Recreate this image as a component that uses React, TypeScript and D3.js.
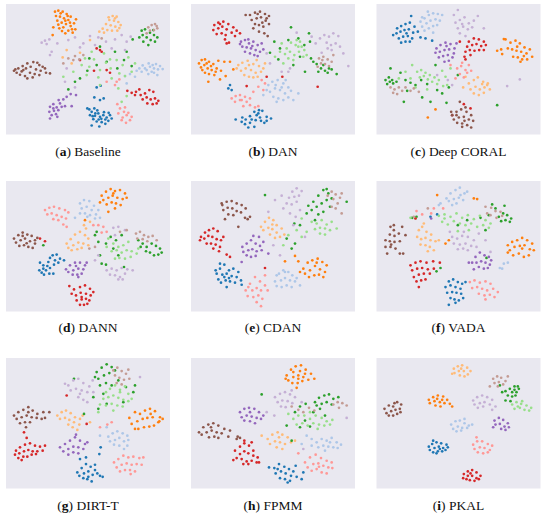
import React from 'react';
import * as d3 from 'd3';

// class order: blue, light blue, orange, light orange, green, light green,
// red, pink, purple, light purple, brown, light brown
const classColors = ['#1f77b4', '#aec7e8', '#ff7f0e', '#ffbb78', '#2ca02c', '#98df8a', '#d62728', '#ff9896', '#9467bd', '#c5b0d5', '#8c564b', '#c49c94'];

const panelLetters = ['a', 'b', 'c', 'd', 'e', 'f', 'g', 'h', 'i'];
const panelNames = ['Baseline', 'DAN', 'Deep CORAL', 'DANN', 'CDAN', 'VADA', 'DIRT-T', 'FPMM', 'PKAL'];

type Pt = number[];

const baseline: Pt[][] = [
  [[268,328],[275,335],[283,325],[270,345],[285,347],[295,340],[280,357],[290,364],[300,350],[310,345],[320,352],[330,345],[305,366],[316,371],[298,379],[275,376],[325,362],[335,355],[292,331],[300,300],[311,295],[290,262],[302,257],[286,340],[304,356],[316,358],[278,348],[326,338],[262,325],[296,358],[312,336],[283,292]],
  [[418,205],[428,196],[440,210],[450,200],[462,205],[474,208],[488,207],[480,198],[468,192],[455,215],[445,222],[435,205],[425,215],[462,218],[472,225],[458,195],[375,228],[390,222],[405,230],[380,250],[410,212],[446,190]],
  [[165,35],[175,32],[188,35],[200,42],[212,50],[168,48],[180,50],[192,55],[205,60],[222,70],[172,62],[185,68],[198,72],[212,78],[226,88],[190,82],[205,92],[218,98],[178,85],[160,82],[196,100],[158,105],[182,40],[196,62],[210,68],[175,74],[216,88],[203,48],[186,93],[228,58]],
  [[338,48],[350,50],[328,60],[342,62],[355,66],[318,72],[332,76],[346,80],[358,84],[308,86],[322,90],[336,92],[298,95],[345,55],[362,75],[200,150],[188,172],[215,190],[240,158],[352,92],[312,98],[326,52],[270,120]],
  [[425,92],[435,88],[450,98],[462,105],[472,112],[428,105],[440,112],[452,120],[465,125],[430,125],[445,135],[418,112],[460,90],[268,175],[290,195],[320,185],[352,205],[372,180],[398,118],[240,235],[205,268],[345,155],[380,155],[262,212],[300,140],[225,245],[395,198]],
  [[255,175],[268,200],[282,178],[300,210],[318,188],[332,205],[350,180],[368,195],[385,172],[395,215],[260,225],[295,232],[335,235],[375,228],[245,195],[275,155],[312,160],[358,220],[405,190],[300,255],[355,265],[380,288],[190,230],[220,215],[365,305],[330,178]],
  [[382,272],[395,278],[408,275],[422,285],[435,280],[448,270],[460,275],[428,298],[440,292],[452,298],[465,295],[475,302],[442,310],[458,312],[470,310],[418,268],[290,145],[305,155],[320,210],[330,218],[282,212],[300,150],[240,180],[405,285]],
  [[352,312],[360,325],[372,335],[355,340],[368,352],[380,345],[390,360],[378,368],[365,360],[385,338],[350,245],[358,238],[345,255],[320,245],[375,322],[395,350]],
  [[150,320],[160,312],[170,322],[148,335],[162,332],[175,330],[155,345],[168,342],[150,355],[180,310],[190,298],[200,290],[212,282],[195,318],[215,318],[172,350],[185,320],[228,285],[160,325],[176,300]],
  [[125,128],[135,122],[148,118],[140,132],[155,155],[150,165],[205,120],[225,112],[250,130],[270,108],[295,112],[318,125],[345,118],[365,105],[380,125],[392,110],[200,205],[240,142],[285,135],[335,145],[172,130],[225,262],[195,245],[375,150]],
  [[42,212],[55,205],[68,198],[82,190],[100,186],[118,195],[135,205],[150,220],[50,218],[65,214],[78,205],[92,200],[108,208],[122,212],[138,218],[60,224],[75,228],[90,218],[104,222],[118,225],[82,235],[98,232],[70,210],[112,188],[46,208],[128,200]],
  [[445,82],[455,75],[465,72],[472,85],[450,92],[462,90],[440,100],[225,168],[238,178],[250,165],[190,190],[205,175],[470,78],[220,180],[305,115]],
];

const dan: Pt[][] = [
  [[170,365],[182,358],[195,348],[208,335],[220,340],[232,332],[245,350],[258,355],[180,372],[195,368],[212,360],[225,352],[238,368],[208,380],[190,382],[152,358],[215,345],[200,358],[228,362],[172,352],[130,265],[140,270],[135,255],[245,362],[222,330]],
  [[250,255],[262,245],[278,240],[295,250],[310,262],[255,275],[270,265],[285,270],[300,280],[318,272],[265,290],[280,295],[295,300],[310,292],[275,305],[245,270],[290,262],[325,300],[340,280],[235,285],[272,255],[302,240]],
  [[42,190],[50,180],[60,178],[72,185],[85,192],[100,182],[118,185],[48,202],[58,195],[68,205],[80,210],[95,205],[108,212],[122,228],[60,218],[72,222],[88,225],[105,238],[70,245],[145,208],[135,185],[65,190],[52,210],[78,198],[92,215]],
  [[160,195],[172,188],[188,182],[205,192],[222,198],[235,205],[168,212],[182,205],[198,210],[212,218],[228,215],[178,225],[192,230],[205,232],[155,205],[192,195],[215,180],[240,190],[218,230]],
  [[268,125],[318,82],[340,115],[372,100],[375,125],[285,145],[310,120],[358,135],[255,158],[378,175],[395,192],[408,205],[420,212],[432,205],[385,185],[400,215],[415,195],[428,218],[440,208],[455,222],[280,178],[345,170],[360,215],[325,195]],
  [[290,130],[305,145],[318,128],[332,135],[345,125],[358,150],[300,162],[315,155],[328,165],[342,155],[355,170],[310,175],[325,180],[340,140],[285,155],[365,165],[270,170],[335,120],[350,140],[295,190]],
  [[88,75],[100,68],[115,65],[130,72],[145,82],[155,92],[165,100],[85,90],[100,85],[112,80],[125,88],[140,98],[150,108],[95,102],[110,100],[122,105],[120,118],[132,128],[125,130],[292,230],[245,230],[185,258],[398,260],[105,72]],
  [[140,295],[152,288],[165,285],[180,290],[150,305],[170,300],[185,305],[195,315],[210,322],[220,318],[205,275],[220,260],[230,240],[240,250],[175,318],[195,295],[235,270],[165,300]],
  [[168,125],[180,120],[192,130],[205,125],[218,135],[230,130],[172,140],[185,142],[198,145],[212,150],[225,155],[180,155],[195,160],[208,165],[218,168],[165,132],[190,118],[235,148],[202,138]],
  [[405,115],[418,105],[432,110],[445,100],[460,108],[425,128],[438,135],[452,130],[465,140],[440,150],[428,145],[392,130],[255,190],[315,205],[290,215],[245,160],[475,160],[490,198],[380,110],[335,98],[310,215],[410,158]],
  [[195,45],[210,38],[225,35],[240,42],[252,48],[200,60],[215,55],[228,52],[242,62],[252,72],[210,72],[222,75],[235,80],[222,95],[238,100],[248,108],[182,45],[205,85],[232,68],[245,55],[218,42]],
  [[402,175],[415,170],[428,178],[440,185],[408,190],[420,192],[432,198],[398,200],[445,165],[412,180]],
];

const coral: Pt[][] = [
  [[80,85],[92,78],[105,72],[118,68],[132,80],[78,100],[90,95],[102,90],[115,88],[128,98],[142,95],[85,115],[98,110],[112,108],[125,115],[92,128],[105,125],[118,125],[68,105],[150,112],[165,115],[185,122],[108,100],[122,48]],
  [[150,65],[162,55],[175,45],[188,40],[202,42],[215,45],[155,80],[168,70],[180,62],[195,58],[208,62],[162,92],[175,85],[188,78],[172,35],[188,98],[200,75],[155,52]],
  [[392,148],[405,118],[420,128],[435,122],[448,130],[462,142],[478,148],[412,145],[425,148],[438,152],[452,155],[468,160],[428,170],[442,172],[455,178],[470,178],[485,170],[400,117],[380,152],[395,162],[450,185],[195,328],[172,352],[440,140],[460,168]],
  [[295,250],[310,240],[322,232],[338,245],[352,250],[300,268],[315,260],[328,268],[342,262],[358,268],[310,280],[325,285],[340,278],[350,255],[285,230],[278,262],[335,252]],
  [[45,240],[55,232],[65,240],[78,245],[50,252],[68,250],[60,205],[90,218],[105,240],[120,248],[135,255],[152,240],[170,252],[200,270],[215,280],[180,305],[155,292],[195,195],[262,225],[235,262],[380,315],[110,272],[100,305],[58,245],[228,308]],
  [[140,215],[152,210],[165,218],[178,225],[192,232],[205,240],[148,232],[160,228],[172,238],[185,245],[200,252],[218,258],[125,195],[105,215],[120,235],[225,230],[240,205],[135,262],[170,268],[85,235],[230,255],[215,212]],
  [[295,125],[310,115],[325,118],[340,125],[290,140],[305,135],[318,132],[332,138],[346,135],[285,155],[298,150],[312,152],[326,150],[340,150],[282,170],[300,165],[285,178],[245,345],[268,125],[280,312],[300,325]],
  [[260,205],[272,198],[285,210],[295,195],[268,222],[280,232],[255,235],[290,218],[302,212],[240,195],[275,188]],
  [[198,145],[210,135],[225,128],[240,132],[252,145],[195,158],[208,155],[222,150],[236,148],[250,160],[205,172],[218,168],[232,165],[246,172],[222,185],[235,182],[258,130],[228,138]],
  [[255,68],[268,60],[282,52],[295,70],[310,62],[322,48],[262,85],[278,80],[292,88],[305,82],[268,100],[285,108],[275,72],[250,45],[262,30],[340,85],[232,240],[245,255],[448,238],[410,258],[200,225]],
  [[245,345],[258,335],[272,328],[288,335],[302,345],[250,358],[265,352],[280,350],[295,358],[308,362],[260,368],[275,370],[290,375],[302,382],[275,380],[268,305],[285,322],[242,335],[282,362],[258,345]],
  [[60,262],[72,268],[85,262],[95,272],[68,278],[80,282],[105,262],[120,272],[130,265],[145,275]],
];

const dann: Pt[][] = [
  [[118,285],[130,270],[145,260],[158,240],[170,238],[180,250],[192,255],[125,292],[138,285],[150,278],[162,268],[175,262],[132,298],[148,295],[160,295],[150,248],[120,262],[142,272],[165,255],[130,280]],
  [[240,85],[252,75],[268,78],[282,92],[295,105],[245,100],[260,95],[275,105],[288,118],[255,115],[270,120],[240,115],[300,128],[262,125],[225,128],[285,130]],
  [[305,62],[318,50],[332,42],[345,48],[360,45],[375,55],[310,75],[325,68],[338,62],[352,68],[368,72],[380,68],[320,88],[335,82],[348,85],[362,90],[345,100],[325,110],[300,82],[255,135],[340,55]],
  [[200,205],[212,192],[225,178],[240,170],[255,180],[265,190],[205,218],[220,210],[235,202],[250,205],[265,210],[215,225],[232,222],[245,218],[258,160],[270,140],[252,150]],
  [[415,195],[428,205],[440,215],[455,205],[468,212],[480,220],[422,215],[438,228],[450,232],[462,240],[475,238],[485,232],[332,185],[348,195],[365,180],[340,220],[355,240],[318,205],[295,200],[305,265],[318,268],[372,275],[130,210],[285,180],[300,240],[290,170]],
  [[325,190],[340,205],[355,215],[370,210],[385,200],[335,228],[350,225],[365,232],[380,225],[395,228],[410,235],[358,248],[375,250],[392,245],[345,250],[415,220],[320,215]],
  [[222,342],[240,335],[255,330],[270,340],[280,350],[215,355],[228,360],[242,352],[258,355],[272,360],[230,375],[245,372],[258,370],[268,375],[240,388],[252,388],[262,385],[208,332],[135,198],[120,190],[245,365]],
  [[135,105],[148,98],[162,95],[178,100],[195,105],[205,112],[142,118],[155,115],[170,120],[185,125],[198,130],[160,132],[175,135],[190,148],[200,155],[295,150],[310,155],[280,150],[320,170],[305,172]],
  [[198,282],[210,270],[225,262],[240,262],[255,270],[205,290],[220,285],[235,280],[250,282],[218,298],[232,298],[245,295],[235,305],[260,262],[228,272]],
  [[320,285],[335,280],[350,285],[365,278],[382,282],[398,285],[330,298],[345,300],[360,305],[375,295],[355,312],[368,312],[340,158],[355,155],[375,165],[295,240],[285,255],[345,180]],
  [[42,190],[55,180],[68,172],[82,178],[95,182],[112,188],[48,202],[62,195],[75,190],[90,198],[105,205],[58,212],[72,210],[85,215],[98,218],[105,195],[68,182],[80,204]],
  [[408,175],[420,170],[432,180],[445,185],[458,182],[470,195],[412,190],[428,192],[442,198],[380,165],[360,170],[268,220],[285,215]],
];

const cdan: Pt[][] = [
  [[95,295],[105,280],[118,268],[132,285],[145,280],[160,290],[100,312],[112,298],[125,295],[140,302],[155,305],[168,315],[108,322],[122,315],[135,318],[150,322],[92,285],[125,335],[170,328],[118,305],[132,308],[105,265]],
  [[270,318],[282,295],[295,285],[310,290],[322,300],[275,332],[288,315],[300,308],[315,315],[330,318],[290,335],[305,330],[320,335],[335,308],[345,330],[300,290],[275,300]],
  [[355,280],[368,262],[382,255],[398,250],[412,260],[425,270],[360,295],[375,285],[390,272],[405,282],[420,290],[372,305],[388,300],[402,298],[415,305],[395,262],[330,242],[340,258],[300,258],[345,290]],
  [[228,155],[240,140],[252,128],[265,135],[275,150],[235,165],[250,158],[262,162],[275,172],[290,160],[255,178],[270,188],[285,185],[298,178],[262,148]],
  [[385,80],[400,62],[415,45],[430,55],[380,105],[395,95],[410,85],[425,75],[440,70],[365,115],[400,118],[415,110],[435,95],[345,150],[328,145],[305,190],[320,220],[240,60],[485,80],[390,135],[425,42],[370,92],[330,205]],
  [[380,140],[395,145],[410,135],[425,148],[440,140],[455,160],[390,162],[405,158],[420,160],[435,165],[405,175],[420,178],[335,165],[350,185],[310,180],[365,170],[350,130],[295,210]],
  [[48,185],[60,172],[72,165],[85,160],[98,168],[45,195],[58,190],[70,182],[82,185],[95,192],[108,195],[65,205],[78,205],[92,208],[105,215],[115,185],[85,220],[125,238],[102,228],[135,245],[240,278]],
  [[182,345],[195,325],[210,305],[225,318],[240,300],[188,362],[202,345],[215,338],[228,345],[240,330],[205,365],[220,360],[232,370],[215,380],[228,392],[248,345],[190,335]],
  [[172,215],[185,205],[198,195],[212,205],[225,212],[235,200],[175,230],[190,225],[202,222],[215,228],[230,225],[185,240],[198,245],[212,242],[205,182],[170,260],[250,235],[222,185]],
  [[322,50],[335,40],[350,48],[312,68],[328,65],[342,62],[305,85],[320,88],[335,80],[295,100],[315,115],[332,125],[345,105],[325,150],[360,185],[270,75],[250,110],[290,62],[265,210],[285,240]],
  [[112,90],[125,80],[140,78],[155,85],[170,90],[182,100],[115,105],[128,98],[142,100],[155,108],[168,112],[130,118],[145,120],[120,132],[195,125],[188,132],[180,128],[160,155],[110,85]],
  [[440,50],[452,58],[465,68],[445,72],[458,85],[470,55],[440,95],[452,100],[470,115],[428,62]],
];

const vada: Pt[][] = [
  [[235,318],[248,312],[262,320],[275,325],[285,320],[225,335],[240,330],[255,335],[270,340],[230,352],[245,350],[258,352],[272,355],[240,368],[252,372],[265,375],[278,368],[235,388],[255,382],[180,125],[200,118]],
  [[228,70],[240,55],[255,45],[268,38],[282,55],[235,78],[250,72],[265,68],[278,75],[245,90],[258,85],[205,90],[290,50],[270,60],[400,265],[412,262],[395,280],[388,278],[210,85]],
  [[412,210],[425,200],[440,195],[455,188],[470,195],[485,205],[418,225],[432,215],[448,212],[462,210],[478,222],[490,225],[428,240],[445,235],[460,245],[475,240],[455,220],[235,195],[225,205],[310,70],[320,72],[200,60],[412,232]],
  [[145,165],[155,155],[168,170],[182,178],[140,185],[152,192],[165,188],[180,195],[195,198],[150,208],[165,210],[178,215],[190,225],[172,228],[160,145],[205,195]],
  [[125,128],[138,125],[385,125],[398,115],[410,120],[422,130],[392,138],[405,135],[418,140],[375,100],[365,88],[402,92],[330,128],[355,120],[262,150],[290,135],[345,165],[210,278],[348,248],[198,288]],
  [[205,122],[222,118],[240,125],[258,115],[275,128],[292,120],[310,132],[328,122],[345,135],[360,145],[215,140],[232,148],[250,138],[268,145],[285,150],[302,145],[320,155],[338,150],[355,158],[262,168],[120,128],[135,130],[295,165],[222,130]],
  [[120,270],[135,262],[150,258],[168,262],[188,258],[125,285],[140,280],[155,278],[172,282],[190,280],[130,305],[145,298],[160,295],[178,295],[138,318],[152,315],[165,312],[145,335],[208,262],[135,130]],
  [[298,320],[312,315],[328,322],[345,318],[360,325],[305,338],[320,335],[335,340],[350,345],[368,340],[382,350],[325,355],[342,360],[358,358],[372,365],[138,108],[155,118],[190,100],[218,100],[345,372],[182,115]],
  [[305,262],[315,245],[328,232],[342,240],[355,245],[362,255],[318,262],[332,258],[345,262],[358,268],[310,282],[325,275],[340,280],[352,278],[295,262],[182,130]],
  [[245,185],[260,190],[275,182],[292,185],[310,195],[250,205],[268,208],[285,205],[302,212],[318,215],[262,222],[278,220],[292,225],[325,175],[345,195],[360,230],[238,170],[280,170]],
  [[60,155],[70,165],[58,178],[72,182],[85,175],[45,195],[58,198],[72,200],[88,198],[45,215],[60,215],[75,220],[88,235],[50,235],[98,235],[105,180],[95,155],[70,150],[62,208]],
  [[362,98],[375,108],[390,110],[360,120],[378,128],[350,115],[345,95],[130,125],[172,100],[395,122]],
];

const dirt: Pt[][] = [
  [[232,375],[245,362],[258,350],[272,358],[285,368],[300,385],[238,385],[252,378],[265,372],[278,382],[292,378],[250,392],[262,395],[275,402],[240,335],[258,330],[298,320],[302,300],[285,352],[265,388],[308,388]],
  [[325,268],[338,258],[352,252],[368,258],[382,265],[330,282],[345,278],[358,272],[372,282],[385,278],[342,292],[358,295],[372,305],[382,295],[320,240],[300,265]],
  [[388,212],[405,195],[420,200],[435,190],[450,185],[465,192],[480,210],[395,230],[412,222],[428,215],[442,212],[458,210],[475,225],[415,245],[432,240],[448,238],[462,235],[478,222],[452,200],[488,215],[405,245]],
  [[172,205],[185,195],[198,190],[212,198],[225,210],[240,215],[180,215],[195,212],[208,218],[222,225],[238,232],[205,232],[218,240],[232,248],[248,205],[270,225]],
  [[290,75],[305,62],[320,52],[335,60],[295,95],[312,85],[328,78],[345,70],[300,115],[318,108],[335,115],[355,100],[378,120],[400,135],[280,150],[295,185],[310,140],[370,165],[222,95],[405,115],[320,170],[285,90],[252,200]],
  [[330,125],[345,115],[360,128],[375,118],[385,140],[310,155],[325,150],[340,145],[355,152],[370,158],[385,162],[300,172],[318,175],[335,170],[352,175],[368,178],[295,195],[340,190],[360,135],[395,155],[318,135]],
  [[48,310],[60,300],[75,292],[90,288],[105,295],[120,298],[135,295],[45,322],[58,318],[72,312],[85,308],[98,312],[112,312],[128,310],[55,332],[70,328],[82,328],[95,322],[72,255],[80,272],[260,230],[200,145],[65,338],[108,320]],
  [[342,345],[355,335],[370,325],[385,330],[400,328],[418,332],[430,330],[350,360],[365,352],[380,348],[395,352],[410,350],[425,352],[375,368],[390,368],[405,372],[360,372],[392,380],[300,240],[322,232],[335,225]],
  [[180,300],[195,290],[210,280],[225,270],[240,280],[255,290],[190,312],[205,305],[220,298],[235,300],[250,305],[205,322],[220,315],[235,318],[228,262],[262,285]],
  [[205,115],[220,100],[235,95],[250,108],[268,118],[212,130],[228,125],[245,130],[262,135],[278,100],[235,150],[250,158],[262,165],[195,110],[280,135],[240,140],[420,90]],
  [[42,205],[55,195],[70,188],[85,180],[98,190],[112,200],[130,195],[50,215],[65,210],[80,205],[95,210],[110,212],[125,215],[60,228],[75,225],[90,225],[78,240],[135,212],[148,195],[85,195]],
  [[340,70],[352,62],[365,72],[378,80],[388,95],[345,85],[358,92],[372,98],[350,108],[365,112],[385,68]],
];

const fpmm: Pt[][] = [
  [[268,362],[282,350],[298,358],[312,365],[325,372],[272,378],[288,372],[302,378],[318,385],[335,388],[350,395],[285,392],[300,395],[315,400],[308,405],[252,360],[332,355],[278,365],[355,375]],
  [[395,285],[410,275],[425,280],[440,272],[455,285],[468,292],[400,300],[415,295],[430,298],[445,300],[458,302],[380,295],[420,310],[365,265],[350,290],[380,275],[435,285]],
  [[305,85],[318,68],[332,58],[348,55],[362,68],[378,80],[310,100],[325,90],[340,85],[355,90],[370,98],[388,95],[322,108],[338,108],[352,102],[335,122],[345,72],[325,75],[340,95],[302,95],[360,80]],
  [[248,275],[262,262],[278,255],[292,262],[308,270],[255,290],[270,282],[285,285],[300,290],[318,285],[275,300],[292,305],[230,265],[330,280],[282,270]],
  [[390,165],[402,152],[418,145],[432,142],[445,155],[395,175],[410,170],[425,165],[440,172],[460,150],[405,185],[345,178],[330,195],[360,220],[375,238],[345,240],[305,235],[230,142],[320,280],[420,205],[385,195],[362,170]],
  [[325,215],[340,205],[358,205],[375,215],[392,205],[410,212],[425,222],[442,218],[335,232],[352,228],[368,235],[385,228],[402,232],[418,235],[398,245],[310,200],[435,232],[375,195]],
  [[150,310],[165,298],[178,288],[192,295],[205,310],[165,320],[178,312],[190,318],[205,325],[218,330],[155,332],[170,335],[185,342],[200,340],[215,345],[175,350],[190,350],[145,338],[222,345],[178,280],[200,285]],
  [[360,345],[375,330],[392,322],[408,332],[425,340],[440,345],[368,360],[385,350],[400,348],[415,355],[430,360],[442,362],[395,365],[410,375],[425,378],[380,370],[340,318],[402,358]],
  [[165,195],[178,185],[192,182],[208,185],[222,195],[235,205],[170,210],[185,205],[200,208],[215,212],[228,215],[178,220],[195,222],[210,228],[195,195]],
  [[270,150],[285,140],[300,135],[315,142],[330,150],[278,165],[292,160],[308,162],[322,168],[288,178],[302,180],[320,130],[268,205],[350,165],[485,212],[355,305],[245,195]],
  [[42,255],[55,240],[70,232],[85,228],[100,235],[118,245],[135,250],[50,262],[65,255],[80,250],[95,255],[110,258],[72,270],[88,268],[100,272],[158,268],[165,272],[155,275],[130,268],[78,240]],
  [[445,172],[458,165],[472,168],[485,175],[462,182],[340,188],[355,195],[372,182],[388,190],[320,178]],
];

const pkal: Pt[][] = [
  [[175,298],[185,290],[198,285],[212,288],[228,292],[178,308],[192,302],[205,298],[218,302],[232,300],[188,315],[202,312],[215,312],[225,308],[198,318],[188,280],[208,305]],
  [[242,232],[255,222],[268,220],[282,228],[295,235],[248,245],[262,238],[275,242],[290,242],[258,252],[272,250],[305,232],[282,215]],
  [[175,158],[188,150],[202,145],[218,148],[230,158],[178,168],[192,162],[208,165],[222,168],[238,170],[195,175],[210,178],[245,178],[200,155],[215,158]],
  [[250,65],[262,58],[275,55],[290,62],[300,72],[252,78],[265,72],[280,72],[292,82],[268,85],[282,88],[245,80],[272,65]],
  [[405,132],[418,125],[432,118],[445,125],[425,135],[438,135],[412,145],[425,148],[405,160],[420,162],[388,115],[395,135],[432,128],[442,118],[435,145]],
  [[425,172],[438,165],[452,170],[468,175],[482,182],[432,185],[448,182],[462,188],[476,190],[455,162],[442,178]],
  [[280,380],[292,372],[305,368],[318,375],[330,385],[278,392],[292,385],[305,385],[318,392],[298,398],[312,400],[325,395],[300,378],[288,395]],
  [[308,292],[320,282],[335,282],[352,290],[365,295],[312,305],[328,300],[342,302],[358,308],[322,315],[338,318],[352,315],[318,270]],
  [[372,220],[385,212],[398,218],[412,228],[375,232],[388,230],[402,238],[415,240],[392,245],[405,248],[368,240]],
  [[308,160],[320,150],[335,145],[350,150],[365,158],[312,172],[328,168],[342,165],[358,172],[375,178],[322,182],[338,178],[365,188]],
  [[42,185],[55,175],[68,178],[80,165],[92,172],[48,198],[62,192],[75,188],[88,185],[55,205],[68,205],[80,200],[90,195],[72,168]],
  [[368,95],[380,88],[392,92],[405,102],[372,108],[385,105],[398,112],[382,118],[358,118],[412,88]],
];

const panelPoints = [baseline, dan, coral, dann, cdan, vada, dirt, fpmm, pkal];

const panelW = 164;
const panelH = 130.5;
const colX = [6, 191, 376.5];
const rowY = [4, 181, 358];
// the points were read in 3x crop units, these are the panel edges in those units
const cropX: [number, number] = [18, 510];
const cropY = [[12, 403], [18, 408], [33, 423]];
const captionY = [156, 332, 510];

const Panel: React.FC<{ index: number }> = ({ index }) => {
  const col = index % 3;
  const row = Math.floor(index / 3);
  const x = d3.scaleLinear().domain(cropX).range([0, panelW]);
  const y = d3.scaleLinear().domain(cropY[row]).range([0, panelH]);

  return (
    <g transform={`translate(${colX[col]},${rowY[row]})`}>
      <rect width={panelW} height={panelH} fill="#e9e8f0" />
      {panelPoints[index].map((pts, c) => (
        <g key={c} fill={classColors[c]}>
          {pts.map((d, i) => (
            <circle key={i} cx={x(d[0])} cy={y(d[1])} r={1.35} />
          ))}
        </g>
      ))}
      <text
        x={panelW / 2}
        y={captionY[row] - rowY[row]}
        textAnchor="middle"
        fontFamily="'Liberation Serif', serif"
        fontSize={13.5}
        fill="#111"
      >
        (<tspan fontWeight="bold">{panelLetters[index]}</tspan>) {panelNames[index]}
      </text>
    </g>
  );
};

export default function App() {
  return (
    <svg width={550} height={517} style={{ position: 'absolute', left: 0, top: 0, background: '#fff' }}>
      {panelNames.map((_, i) => (
        <Panel key={i} index={i} />
      ))}
    </svg>
  );
}
